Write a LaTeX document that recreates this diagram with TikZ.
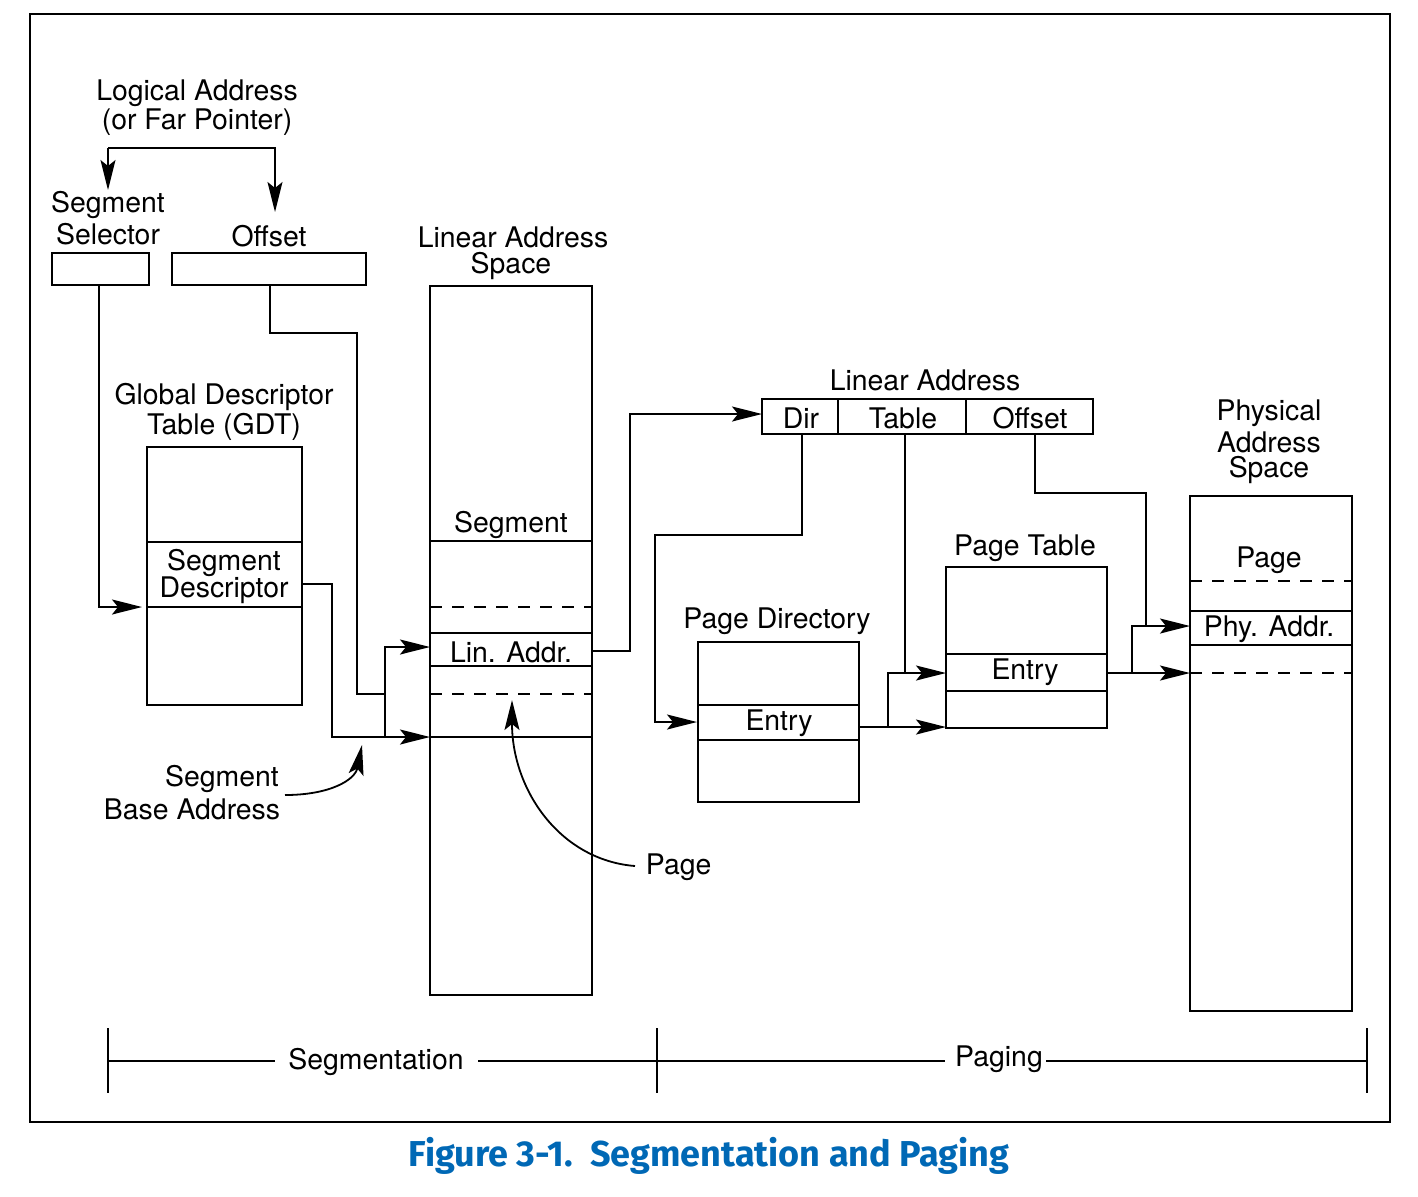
\documentclass[tikz,border=0pt]{standalone}
\usepackage{fontspec}
\setmainfont{TeX Gyre Heros}
\newfontfamily\titlefont{Fira Sans}
\usetikzlibrary{arrows.meta}
\definecolor{intelblue}{RGB}{0,104,181}
\begin{document}
\begin{tikzpicture}[x=0.5pt,y=-0.5pt,line width=0.9pt,
  txt/.style={inner sep=0pt,font=\fontsize{14.2}{14.2}\selectfont},
  ar/.style={-{Stealth[length=15pt,width=7.5pt,inset=3pt]}},
  dsh/.style={dash pattern=on 6pt off 5pt}]
\useasboundingbox (0,0) rectangle (1418,1196);
\draw (30,14) rectangle (1390,1122);
\node[font=\titlefont\bfseries\fontsize{18}{18}\selectfont,text=intelblue] (title) at (709,1156) {Figure 3-1.\ \ Segmentation and Paging};
% logical address
\node[txt] (la1) at (197,93) {Logical Address};
\node[txt] (la2) at (197,122) {(or Far Pointer)};
\coordinate (lsplitL) at (108,148); \coordinate (lsplitR) at (275,148);
\draw[ar] (lsplitL) -- (lsplitR) -- (275,212);
\draw[ar] (lsplitL) -- (108,190);
\node[txt] (ss1) at (108,205) {Segment};
\node[txt] (ss2) at (108,234) {Selector};
\node[txt] (offl) at (269,236) {Offset};
\draw (52,253) rectangle (149,285);
\draw (172,253) rectangle (366,285);
% GDT
\node[txt] (g1) at (224,397) {Global Descriptor};
\node[txt] (g2) at (224,427) {Table (GDT)};
\draw (147,447) rectangle (302,705);
\draw (147,542) -- (302,542) (147,607) -- (302,607);
\node[txt] (sd1) at (224,563) {Segment};
\node[txt] (sd2) at (224,590) {Descriptor};
\draw[ar] (99,285) -- (99,607) -- (142,607);
\draw (270,285) -- (270,333) -- (357,333) -- (357,694) -- (385,694);
\draw[ar] (302,584) -- (332,584) -- (332,737) -- (430,737);
\draw[ar] (385,737) -- (385,647) -- (430,647);
% linear address space
\node[txt] (las1) at (513,237) {Linear Address};
\node[txt] (las2) at (511,266) {Space};
\draw (430,286) rectangle (592,995);
\draw (430,541) -- (592,541) (430,633) -- (592,633) (430,666) -- (592,666) (430,737) -- (592,737);
\draw[dsh] (430,607) -- (592,607) (430,694) -- (592,694);
\node[txt] (seg) at (511,525) {Segment};
\node[txt] (lin) at (511,652) {Lin. Addr.};
\node[txt,anchor=west] (pg) at (645,867) {Page};
\draw[ar] (635,866) .. controls (560,860) and (512,790) .. (512,700);
\node[txt] (sb1) at (222,779) {Segment};
\node[txt] (sb2) at (192,809) {Base Address};
\draw[ar] (285,795) .. controls (330,795) and (355,780) .. (362,745);
% linear address
\draw[ar] (592,651) -- (630,651) -- (630,414) -- (762,414);
\node[txt] (lal) at (925,380) {Linear Address};
\draw (762,399) rectangle (1093,434);
\draw (838,399) -- (838,434) (966,399) -- (966,434);
\node[txt] (dir) at (801,418) {Dir};
\node[txt] (tab) at (903,418) {Table};
\node[txt] (off2) at (1030,418) {Offset};
\draw[ar] (802,434) -- (802,535) -- (655,535) -- (655,722) -- (697,722);
% page directory
\node[txt] (pdl) at (777,621) {Page Directory};
\draw (698,642) rectangle (859,802);
\draw (698,705) -- (859,705) (698,740) -- (859,740);
\node[txt] (e1) at (779,723) {Entry};
\draw[ar] (859,727) -- (946,727);
\draw[ar] (888,727) -- (888,673) -- (946,673);
\draw (905,434) -- (905,673);
% page table
\node[txt] (ptl) at (1025,548) {Page Table};
\draw (946,567) rectangle (1107,728);
\draw (946,654) -- (1107,654) (946,691) -- (1107,691);
\node[txt] (e2) at (1025,672) {Entry};
\draw[ar] (1107,673) -- (1190,673);
\draw[ar] (1132,673) -- (1132,626) -- (1190,626);
\draw (1035,434) -- (1035,493) -- (1146,493) -- (1146,626);
% physical
\node[txt] (p1) at (1269,413) {Physical};
\node[txt] (p2) at (1269,442) {Address};
\node[txt] (p3) at (1269,470) {Space};
\draw (1190,496) rectangle (1352,1011);
\draw (1190,611) -- (1352,611) (1190,645) -- (1352,645);
\draw[dsh] (1190,581) -- (1352,581) (1190,673) -- (1352,673);
\node[txt] (pp) at (1269,560) {Page};
\node[txt] (pa) at (1269,629) {Phy. Addr.};
% bottom
\draw (108,1028) -- (108,1093) (657,1028) -- (657,1093) (1367,1028) -- (1367,1093);
\node[txt] (segm) at (376,1062) {Segmentation};
\node[txt] (pag) at (999,1059) {Paging};
\draw (108,1061) -- (275,1061) (478,1061) -- (657,1061) -- (945,1061) (1046,1061) -- (1367,1061);
\end{tikzpicture}
\end{document}
